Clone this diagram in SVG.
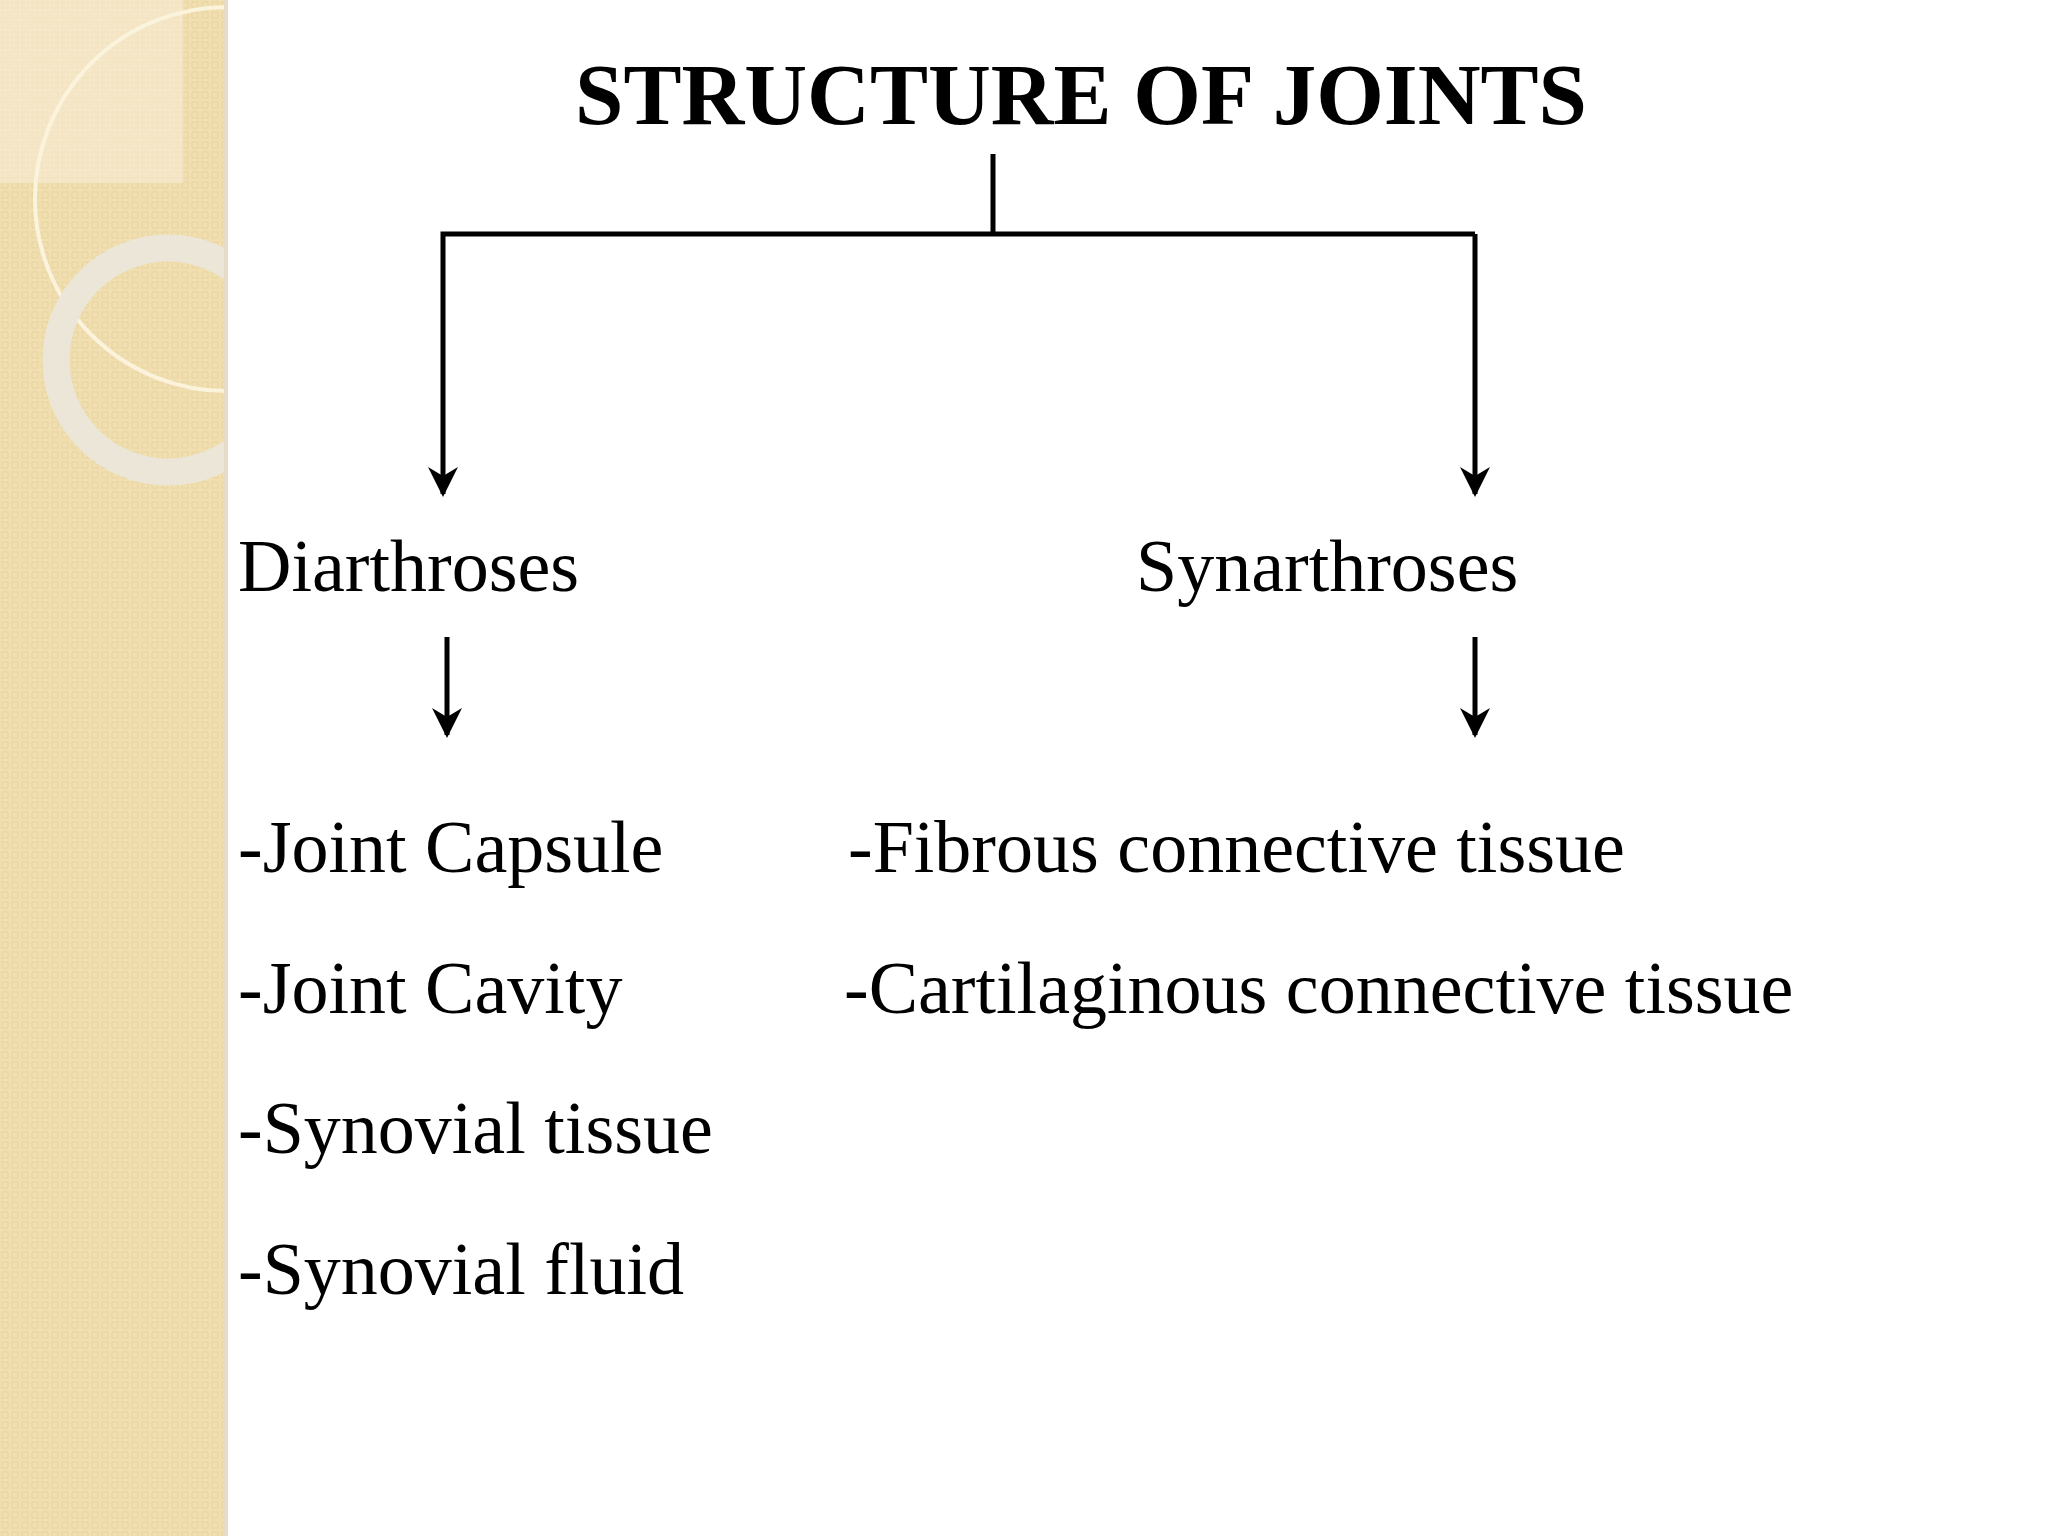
<svg xmlns="http://www.w3.org/2000/svg" width="2048" height="1536" viewBox="0 0 2048 1536">
<style>
.t{font-family:"Liberation Serif","Times New Roman",serif;fill:#000;font-size:74px}
.h{font-family:"Liberation Serif","Times New Roman",serif;font-weight:bold;font-size:87px;fill:#000}
.c{fill:none;stroke:#000;stroke-width:5}
</style>
<defs>
<marker id="a" viewBox="0 0 10 10" refX="9" refY="5" markerWidth="6" markerHeight="6" orient="auto" markerUnits="strokeWidth"><path d="M0,0 L10,5 L0,10 L3,5 z" fill="#000"/></marker>
<clipPath id="band"><rect x="0" y="0" width="226" height="1536"/></clipPath>
<pattern id="p" width="10" height="10" patternUnits="userSpaceOnUse"><rect width="10" height="10" fill="#f1dfb1"/><rect x="2" y="2" width="6" height="6" fill="none" stroke="#e8d39f" stroke-width="1"/></pattern>
</defs>
<rect width="2048" height="1536" fill="#fff"/>
<g id="background" clip-path="url(#band)">
<rect x="0" y="0" width="226" height="1536" fill="url(#p)"/>
<rect x="0" y="0" width="183" height="183" fill="#f6ead0" opacity="0.7"/>
<circle cx="227" cy="199" r="192" fill="none" stroke="#fbf3dc" stroke-width="4"/>
<circle cx="168" cy="360" r="112" fill="none" stroke="#ece6d8" stroke-width="27"/>
</g>
<rect x="224" y="0" width="4" height="1536" fill="#e6dccb"/>
<g id="title"><text class="h" x="1081" y="124" text-anchor="middle">STRUCTURE OF JOINTS</text></g>
<g id="connectors">
<path class="c" d="M993,154 V234"/>
<path class="c" d="M1475,234 H443 V494" marker-end="url(#a)"/>
<path class="c" d="M1475,234 V494" marker-end="url(#a)"/>
<path class="c" d="M447,637 V735" marker-end="url(#a)"/>
<path class="c" d="M1475,637 V735" marker-end="url(#a)"/>
</g>
<g id="diarthroses"><text class="t" x="238" y="591">Diarthroses</text></g>
<g id="synarthroses"><text class="t" x="1136" y="591">Synarthroses</text></g>
<g id="diarthroses-items">
<text class="t" x="238" y="872">-Joint Capsule</text>
<text class="t" x="238" y="1013">-Joint Cavity</text>
<text class="t" x="238" y="1153">-Synovial tissue</text>
<text class="t" x="238" y="1294">-Synovial fluid</text>
</g>
<g id="synarthroses-items">
<text class="t" x="848" y="872">-Fibrous connective tissue</text>
<text class="t" x="844" y="1013">-Cartilaginous connective tissue</text>
</g>
</svg>
